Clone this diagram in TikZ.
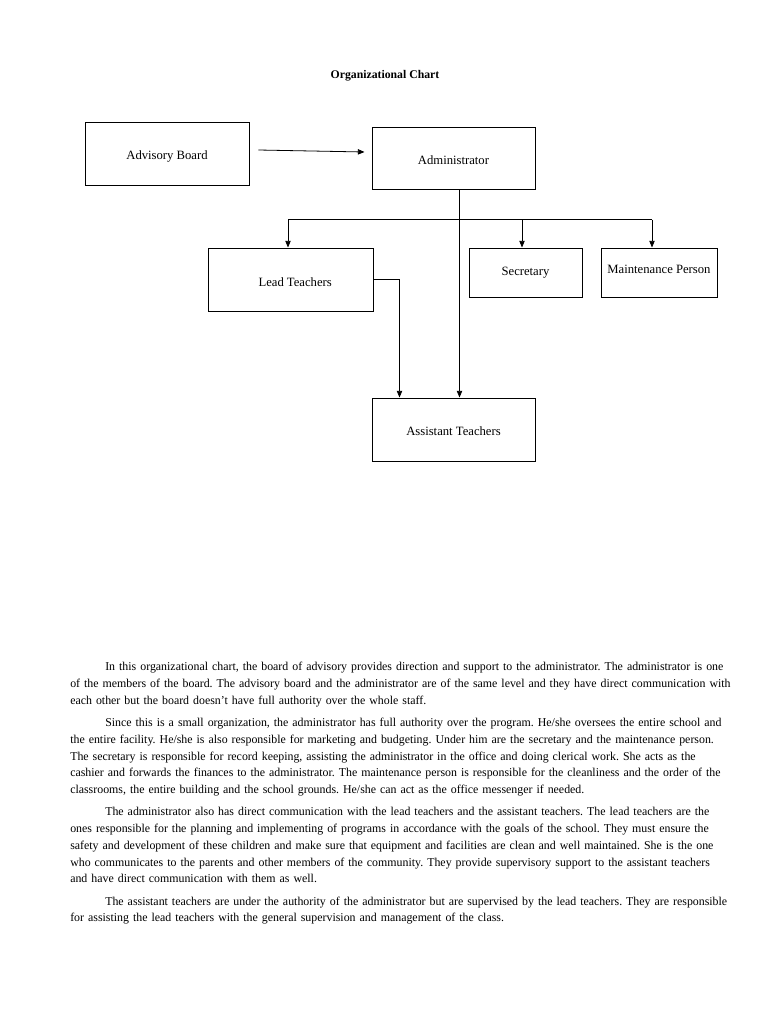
\documentclass[tikz,border=0pt]{standalone}
\usepackage{fontspec}
\setmainfont{Liberation Serif}
\newfontfamily\bodyfont{Liberation Serif}[FakeStretch=0.99]
\usetikzlibrary{arrows.meta,calc}
\begin{document}
\begin{tikzpicture}[x=0.75pt,y=-0.75pt,
  box/.style={draw,line width=0.7pt,inner sep=0pt,align=center,font=\fontsize{9.5}{11}\selectfont},
  arr/.style={line width=0.6pt,-{Triangle[length=5pt,width=4pt]}},
  ln/.style={line width=0.6pt},
  body/.style={inner sep=0pt,anchor=north west,text width=600pt,align=left,font=\bodyfont\fontsize{9}{12.6}\selectfont\frenchspacing}]
\useasboundingbox[fill=white] (0,0) rectangle (768,1024);
\node[font=\bfseries\fontsize{8.8}{10}\selectfont] (title) at (385,76) {Organizational Chart};
\node[box,minimum width=123pt,minimum height=47.25pt] (adv) at (167,153.5) {\raisebox{-4.35pt}[0pt][0pt]{Advisory Board}};
\node[box,minimum width=122.25pt,minimum height=46.5pt] (adm) at (453.5,158) {\raisebox{-4.7pt}[0pt][0pt]{Administrator}};
\node[box,minimum width=123.75pt,minimum height=47.25pt] (lead) at (290.5,279.5) {\hspace*{7pt}\raisebox{-5.1pt}[0pt][0pt]{Lead Teachers}};
\node[box,minimum width=84.75pt,minimum height=36.75pt] (sec) at (525.5,272.5) {\raisebox{-2.2pt}[0pt][0pt]{Secretary}};
\node[box,minimum width=87pt,minimum height=36.75pt] (mnt) at (659,272.5) {\raisebox{-0.6pt}[0pt][0pt]{Maintenance Person}};
\node[box,minimum width=122.25pt,minimum height=47.25pt] (ast) at (453.5,429.5) {\raisebox{-4.35pt}[0pt][0pt]{Assistant Teachers}};
% connectors
\draw[arr] ($(adv.east)+(9,-3.5)$) -- ($(adm.west)+(-7,-6)$);
\draw[arr] ($(adm.south)+(6,0)$) -- ($(ast.north)+(6,0)$);
\coordinate (jl) at ($(lead.north)+(-2.5,-28)$);
\coordinate (jr) at ($(mnt.north)+(-7,-28)$);
\draw[ln] (jl) -- (jr);
\draw[arr] (jl) -- ($(lead.north)+(-2.5,0)$);
\draw[arr] ($(sec.north)+(-3.5,-28)$) -- ($(sec.north)+(-3.5,0)$);
\draw[arr] (jr) -- ($(mnt.north)+(-7,0)$);
\draw[arr] ($(lead.east)+(0,-0.5)$) -| ($(ast.north)+(-54,0)$);
% body text
\node[body] (txt) at (70,662) {\hspace*{26.25pt}In this organizational chart, the board of advisory provides direction and support to the administrator. The administrator is one\\
of the members of the board. The advisory board and the administrator are of the same level and they have direct communication with\\
each other but the board doesn’t have full authority over the whole staff.\\[4pt]
\hspace*{26.25pt}Since this is a small organization, the administrator has full authority over the program. He/she oversees the entire school and\\
the entire facility. He/she is also responsible for marketing and budgeting. Under him are the secretary and the maintenance person.\\
The secretary is responsible for record keeping, assisting the administrator in the office and doing clerical work. She acts as the\\
cashier and forwards the finances to the administrator. The maintenance person is responsible for the cleanliness and the order of the\\
classrooms, the entire building and the school grounds. He/she can act as the office messenger if needed.\\[4pt]
\hspace*{26.25pt}The administrator also has direct communication with the lead teachers and the assistant teachers. The lead teachers are the\\
ones responsible for the planning and implementing of programs in accordance with the goals of the school. They must ensure the\\
safety and development of these children and make sure that equipment and facilities are clean and well maintained. She is the one\\
who communicates to the parents and other members of the community. They provide supervisory support to the assistant teachers\\
and have direct communication with them as well.\\[4pt]
\hspace*{26.25pt}The assistant teachers are under the authority of the administrator but are supervised by the lead teachers. They are responsible\\
for assisting the lead teachers with the general supervision and management of the class.};
\end{tikzpicture}
\end{document}
